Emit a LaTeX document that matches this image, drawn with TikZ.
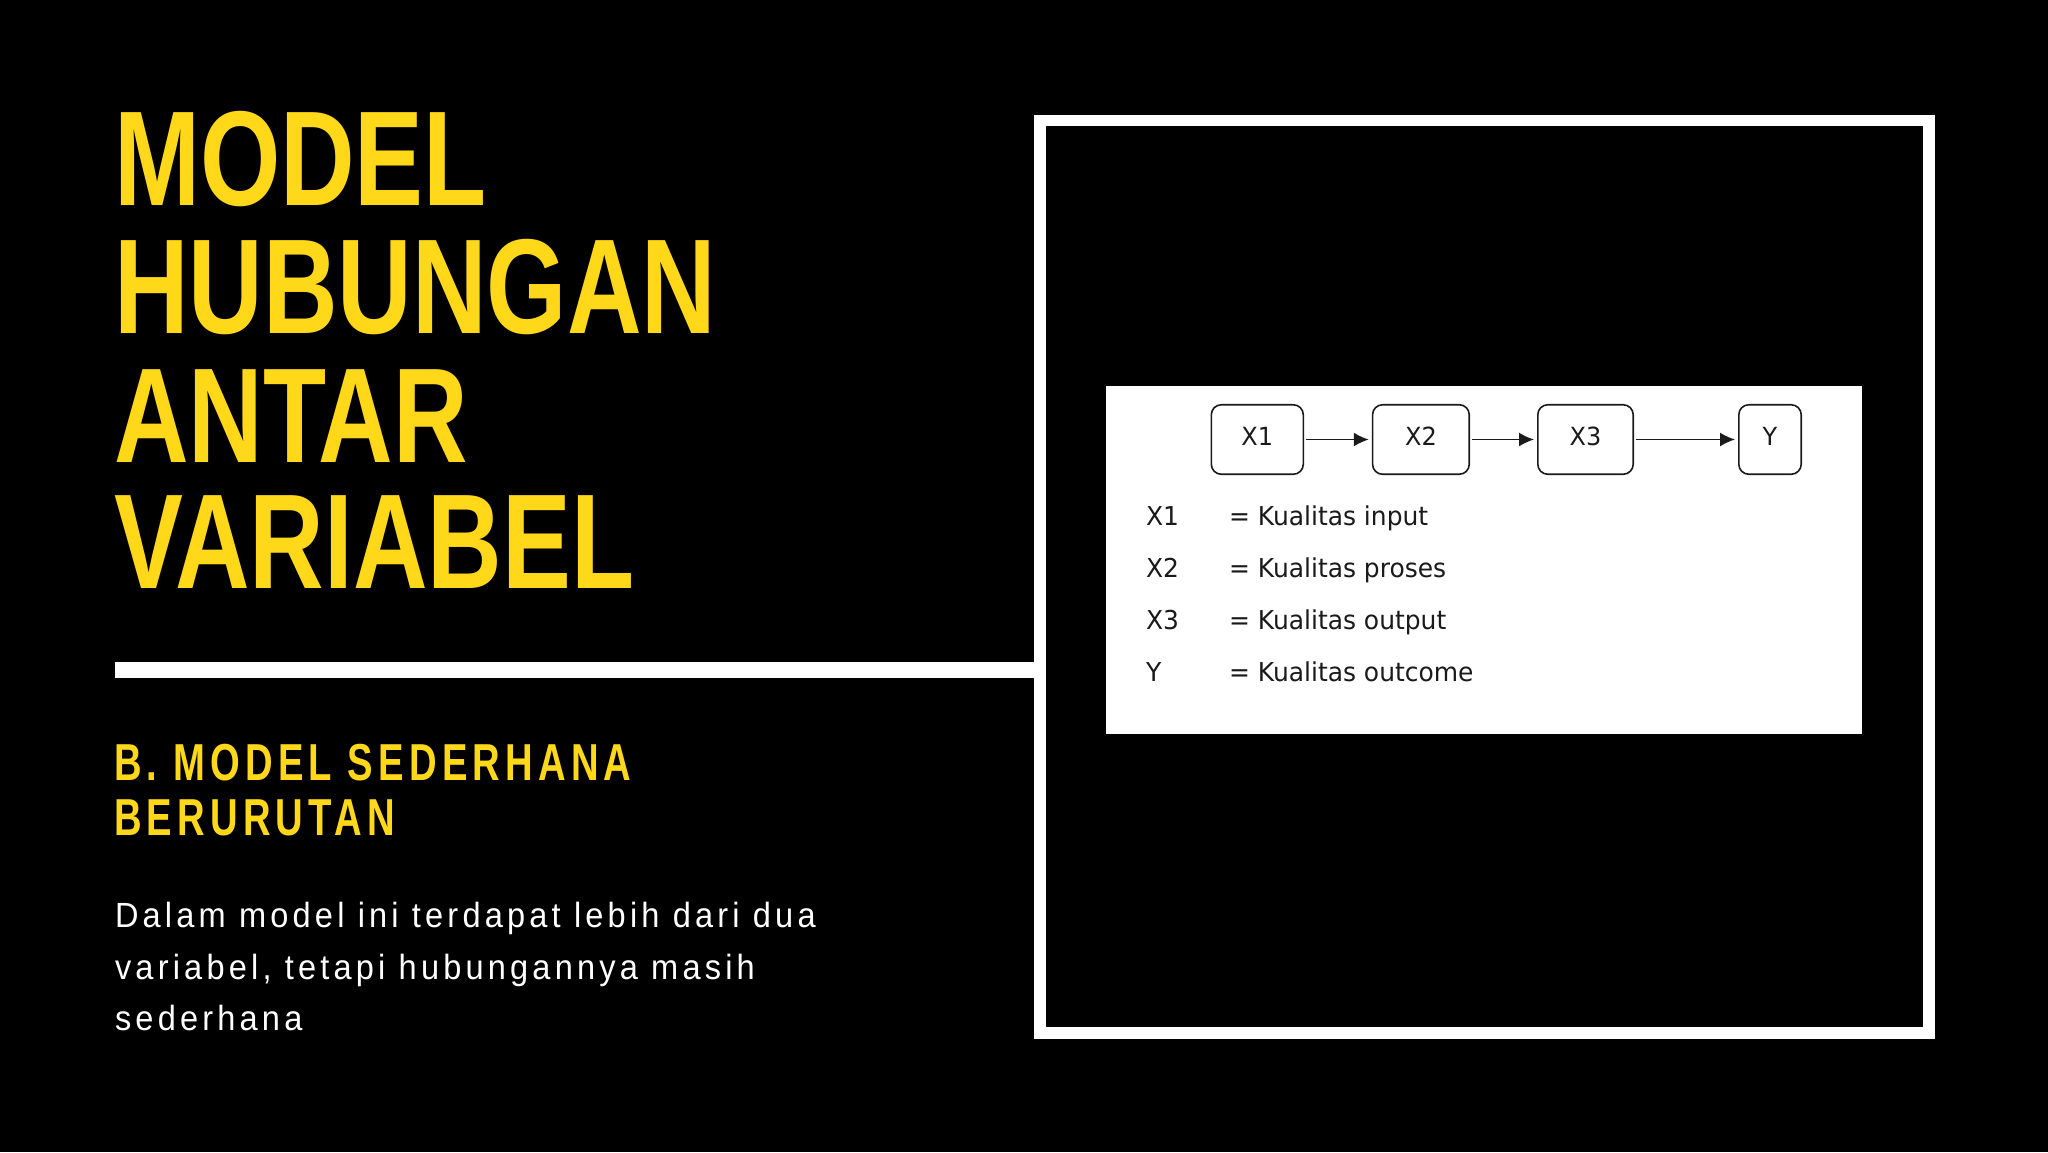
\documentclass[tikz,border=0pt]{standalone}
\usepackage{fontspec}
\usetikzlibrary{arrows.meta}
\setmainfont{Liberation Sans}
\newfontfamily\titlefont[FakeStretch=0.765]{Liberation Sans}
\newfontfamily\subfont[FakeStretch=0.735,LetterSpace=10]{Liberation Sans}
\newfontfamily\bodyfont[FakeStretch=0.93,LetterSpace=12]{Liberation Sans}
\newfontfamily\diafont[FakeStretch=0.96]{DejaVu Sans}
\definecolor{ttlyellow}{HTML}{FFD81A}
\definecolor{diaink}{HTML}{1A1A1A}
\newcommand\boxlbl[1]{\raisebox{2pt}[15pt][0pt]{#1}}
\tikzset{
  ttl/.style={anchor=base west, inner sep=0pt, outer sep=0pt, text=ttlyellow, font=\titlefont\bfseries\fontsize{135}{135}\selectfont},
  subttl/.style={anchor=base west, inner sep=0pt, outer sep=0pt, text=ttlyellow, font=\subfont\bfseries\fontsize{52}{52}\selectfont},
  bodytxt/.style={anchor=base west, inner sep=0pt, outer sep=0pt, text=white, font=\bodyfont\fontsize{35}{35}\selectfont},
  varbox/.style={draw=diaink, line width=1.6pt, rounded corners=10pt, minimum height=69.5pt, inner sep=0pt, text=diaink, font=\diafont\fontsize{25}{25}\selectfont},
  legend/.style={anchor=base west, inner sep=0pt, outer sep=0pt, text=diaink, font=\diafont\fontsize{26}{26}\selectfont},
  arr/.style={draw=diaink, line width=1.6pt, -{Latex[length=15pt,width=14pt]}, shorten >=3pt, shorten <=1.5pt},
}
\begin{document}
\begin{tikzpicture}[x=1pt,y=-1pt]
\fill[black] (0,0) rectangle (2048,1152);
\useasboundingbox (0,0) rectangle (2048,1152);

% title
\node[ttl] (t1) at (114,205) {MODEL};
\node[ttl] (t2) at (114,333) {HUBUNGAN};
\node[ttl] (t3) at (114,462) {ANTAR};
\node[ttl] (t4) at (114,588) {VARIABEL};

% separator line
\coordinate (ls) at (114.7,670);
\coordinate (le) at (1034.5,670);
\draw[white, line width=15.4pt] (ls) -- (le);

% subtitle
\node[subttl] (s1) at (114,780) {B. MODEL SEDERHANA};
\node[subttl] (s2) at (114,835) {BERURUTAN};

% body
\node[bodytxt] (b1) at (115,927.7) {Dalam model ini terdapat lebih dari dua};
\node[bodytxt] (b2) at (115,979.5) {variabel, tetapi hubungannya masih};
\node[bodytxt] (b3) at (115,1030) {sederhana};

% frame
\draw[white, line width=11.5pt] (1040,120.5) rectangle (1929,1033);

% white panel
\fill[white] (1106,386) rectangle (1862,734);

% boxes
\node[varbox, minimum width=92pt] (x1) at (1257.3,439.5) {\boxlbl{X1}};
\node[varbox, minimum width=96.7pt] (x2) at (1420.9,439.5) {\boxlbl{X2}};
\node[varbox, minimum width=95.4pt] (x3) at (1585.5,439.5) {\boxlbl{X3}};
\node[varbox, minimum width=62.4pt] (y) at (1770,439.5) {\boxlbl{Y}};

\draw[arr] (x1) -- (x2);
\draw[arr] (x2) -- (x3);
\draw[arr] (x3) -- (y);

% legend
\node[legend] (l1a) at (1146,525.7) {X1};
\node[legend] (l1b) at (1229,525.7) {= Kualitas input};
\node[legend] (l2a) at (1146,577.7) {X2};
\node[legend] (l2b) at (1229,577.7) {= Kualitas proses};
\node[legend] (l3a) at (1146,629.3) {X3};
\node[legend] (l3b) at (1229,629.3) {= Kualitas output};
\node[legend] (l4a) at (1146,681.7) {Y};
\node[legend] (l4b) at (1229,681.7) {= Kualitas outcome};
\end{tikzpicture}
\end{document}
